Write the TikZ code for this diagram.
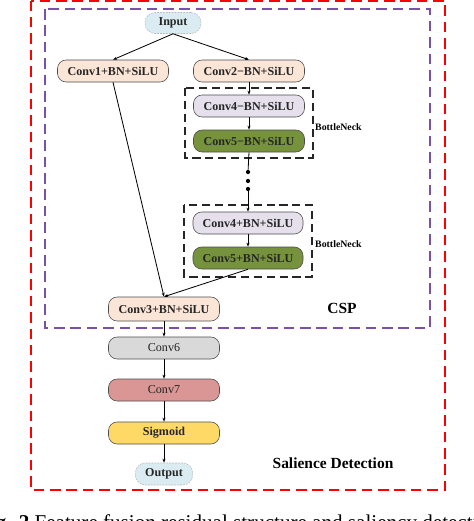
\documentclass[tikz,border=0pt]{standalone}
\usepackage{fontspec}
\setmainfont{Liberation Serif}
\usepackage{tikz}
\usetikzlibrary{arrows.meta,positioning,backgrounds}

\begin{document}
\begin{tikzpicture}[x=0.03cm,y=-0.03cm,
  blk/.style={draw=black!70,line width=0.5pt,rounded corners=0.26cm,minimum width=3.33cm,minimum height=0.66cm,inner sep=0pt,text=black!85,font=\fontsize{10.3}{12}\selectfont\bfseries},
  iob/.style={blk,draw=gray!55,dash pattern=on 1.5pt off 1pt,rounded corners=0.3cm,minimum width=1.68cm,minimum height=0.63cm},
  bnbox/.style={draw=black!85,line width=1.2pt,dash pattern=on 7pt off 4pt},
  bnlab/.style={anchor=west,inner sep=0pt,font=\fontsize{8.4}{10}\selectfont\bfseries},
  dot/.style={circle,fill=black,inner sep=0pt,minimum size=3.6pt},
  lnk/.style={-{Stealth[length=3.5pt,width=2.6pt]},line width=0.7pt},
  big/.style={inner sep=0pt,font=\fontsize{13.2}{15}\selectfont\bfseries}]
%
\useasboundingbox (0,0) rectangle (474,521);
%
\definecolor{cio}{rgb}{0.855,0.925,0.950}
\definecolor{cpe}{rgb}{0.984,0.898,0.839}
\definecolor{cla}{rgb}{0.898,0.878,0.925}
\definecolor{cgr}{rgb}{0.463,0.573,0.235}
\definecolor{cgy}{rgb}{0.851,0.851,0.851}
\definecolor{cro}{rgb}{0.851,0.588,0.580}
\definecolor{cye}{rgb}{1.0,0.851,0.400}
\definecolor{cred}{rgb}{1.0,0.0,0.0}
\definecolor{cpu}{rgb}{0.470,0.320,0.660}
%
\draw[cred,line width=1.7pt,dash pattern=on 9pt off 5pt] (31,0.5) rectangle (445,490);
\draw[cpu,line width=1.6pt,dash pattern=on 9pt off 5pt] (45,9) rectangle (430,328);
\draw[bnbox] (185,88) rectangle (313,158);
\draw[bnbox] (184,205) rectangle (312,277);
%
\node[iob,fill=cio] (in) at (173,23) {Input};
\node[blk,fill=cpe] (c1) at (113,71) {Conv1+BN+SiLU};
\node[blk,fill=cpe] (c2) at (249,71) {Conv2−BN+SiLU};
\node[blk,fill=cla] (c4a) at (249,106) {Conv4−BN+SiLU};
\node[blk,fill=cgr] (c5a) at (249,141) {Conv5−BN+SiLU};
\node[bnlab] (bn1) at (315,127) {BottleNeck};
\node[dot] (d1) at (248,172) {};
\node[dot] (d2) at (248,181) {};
\node[dot] (d3) at (248,189) {};
\node[blk,fill=cla,minimum width=3.3cm] (c4b) at (248,223) {Conv4+BN+SiLU};
\node[blk,fill=cgr,minimum width=3.3cm] (c5b) at (248,258) {Conv5+BN+SiLU};
\node[bnlab] (bn2) at (315,244) {BottleNeck};
\node[blk,fill=cpe,minimum height=0.72cm] (c3) at (164,309) {Conv3+BN+SiLU};
\node[big] (csp) at (342,308) {CSP};
\node[blk,fill=cgy,font=\fontsize{10.3}{12}\selectfont] (c6) at (164,348) {Conv6};
\node[blk,fill=cro,font=\fontsize{10.3}{12}\selectfont] (c7) at (164,390) {Conv7};
\node[blk,fill=cye] (sg) at (164,433) {Sigmoid};
\node[iob,fill=cio,minimum width=1.72cm,minimum height=0.66cm] (out) at (164,474) {Output};
\node[big] (sd) at (333,463) {Salience Detection};
\node[anchor=base west,inner sep=0pt,font=\fontsize{18}{21}\selectfont] (cap) at (-23,529) {\textbf{Fig. 2} Feature fusion residual structure and saliency detection};
%
\draw[lnk] (in.south) -- (c1.north);
\draw[lnk] (in.south) -- (c2.north);
\draw[lnk] (c2) -- (c4a);
\draw[lnk] (c4a) -- (c5a);
\draw[line width=0.7pt] (c5a.south) -- (d1);
\draw[lnk] (d3) -- (c4b);
\draw[lnk] (c4b) -- (c5b);
\draw[lnk] (c1.south) -- (c3.north);
\draw[lnk] (c5b.south) -- (c3.north);
\draw[lnk] (c3) -- (c6);
\draw[lnk] (c6) -- (c7);
\draw[lnk] (c7) -- (sg);
\draw[lnk] (sg) -- (out);
%
\end{tikzpicture}
\end{document}
